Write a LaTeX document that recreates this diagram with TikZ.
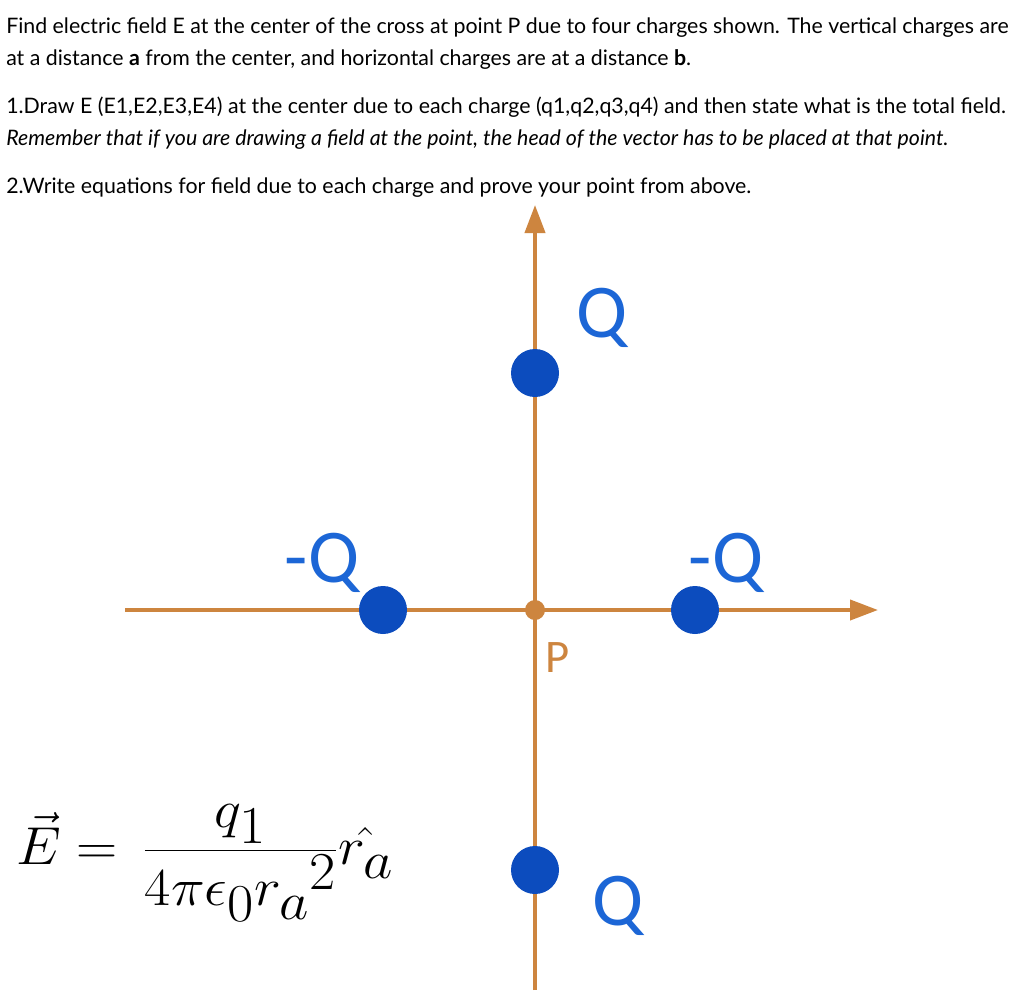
\RequirePackage{fix-cm}
\documentclass[tikz,border=0pt]{standalone}
\usepackage{amsmath}
\usepackage{graphicx}
\usepackage{fontspec}
\setmainfont{Lato}
\newfontfamily\labelfont{Carlito}
\usepackage{tikz}
\usetikzlibrary{arrows.meta}
\definecolor{axiscol}{RGB}{205,133,63}
\definecolor{chargecol}{RGB}{12,76,190}
\definecolor{labelcol}{RGB}{28,102,214}
\newcommand{\bigsub}[1]{{\textstyle\vphantom{t}#1}}

\begin{document}
\begin{tikzpicture}[x=0.75pt,y=-0.75pt,>={Triangle[length=21pt,width=15pt]},
    axis line/.style={draw=axiscol,line width=3pt},
    charge node/.style={circle,fill=chargecol,minimum size=36pt,inner sep=0pt},
    centre node/.style={circle,fill=axiscol,minimum size=15pt,inner sep=0pt},
    charge label/.style={anchor=base,inner sep=0pt,text=labelcol,font=\labelfont\fontsize{57}{60}\selectfont},
    text line/.style={anchor=base west,inner sep=0pt,font=\fontsize{16}{19}\selectfont}]

  \fill[white] (0,0) rectangle (1024,1004);
  \useasboundingbox (0,0) rectangle (1024,1004);

  \node[text line] (line1) at (6,33) {Find electric field E at the center of the cross at point P due to four charges shown. The vertical charges are};
  \node[text line] (line2) at (6,65) {at a distance \textbf{a} from the center, and horizontal charges are at a distance \textbf{b}.};
  \node[text line] (line3) at (6,113) {1.Draw E (E1,E2,E3,E4) at the center due to each charge (q1,q2,q3,q4) and then state what is the total field.};
  \node[text line] (line4) at (6,145) {\itshape Remember that if you are drawing a field at the point, the head of the vector has to be placed at that point.};
  \node[text line] (line5) at (6,193) {2.Write equations for field due to each charge and prove your point from above.};

  \coordinate (top) at (535,205);
  \coordinate (bottom) at (535,990);
  \coordinate (left) at (125,610);
  \coordinate (right) at (878,610);

  \draw[axis line,->] (bottom) -- (top);
  \draw[axis line,->] (left) -- (right);

  \node[centre node] (P) at (535,610) {};
  \node[charge node] (q1) at (535,373) {};
  \node[charge node] (q2) at (383,610) {};
  \node[charge node] (q3) at (695,610) {};
  \node[charge node] (q4) at (535,870) {};

  \node[charge label] (l1) at (602,337) {Q};
  \node[charge label] (l2) at (322,582) {-Q};
  \node[charge label] (l3) at (726,582) {-Q};
  \node[charge label] (l4) at (618,925) {Q};
  \node[charge label,text=axiscol,font=\labelfont\fontsize{35}{40}\selectfont] (lP) at (558,672) {P};

  \node[anchor=base west,inner sep=0pt,font=\fontsize{40}{46}\selectfont] (eq) at (16,864)
    {\scalebox{1.07}[1]{$\displaystyle \vec{E} =\, \frac{q_{\textstyle 1}}{4\pi\epsilon_{\textstyle 0}{r_{\bigsub{a}}}^{\textstyle 2}}\hat{r_{\bigsub{a}}}$}};

\end{tikzpicture}
\end{document}
